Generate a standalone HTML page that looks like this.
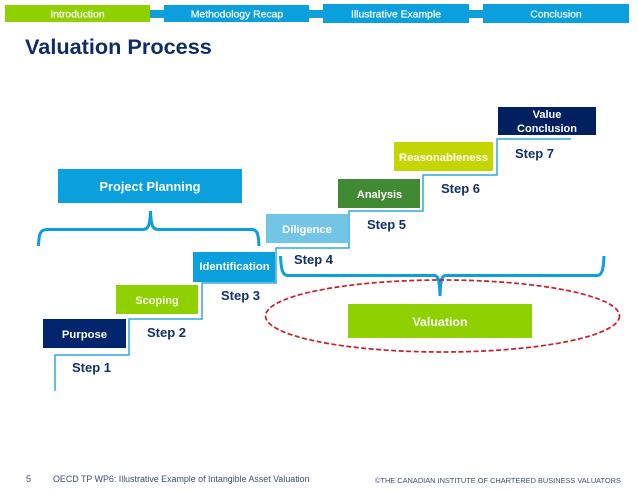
<!DOCTYPE html>
<html><head><meta charset="utf-8"><style>
html,body{margin:0;padding:0;background:#fff}
svg{display:block}
text{font-family:"Liberation Sans",sans-serif}
.w{fill:#fff;font-weight:700;text-anchor:middle}
.t{fill:#fff;font-weight:400;text-anchor:middle;font-size:10.4px;stroke:#fff;stroke-width:.25}
.s{fill:#12306b;font-weight:700;font-size:13px}
</style></head><body>
<svg width="638" height="493" viewBox="0 0 638 493" xmlns="http://www.w3.org/2000/svg">
<rect width="638" height="493" fill="#fff"/>
<!-- tabs -->
<rect x="150" y="10" width="14" height="8" fill="#0f9fdc"/>
<rect x="309" y="10" width="14" height="8" fill="#0f9fdc"/>
<rect x="469" y="10" width="14" height="8" fill="#0f9fdc"/>
<rect x="5" y="5" width="145" height="17" fill="#8fd100"/>
<rect x="164" y="5" width="145" height="17" fill="#0a9fdd"/>
<rect x="323" y="4" width="146" height="19" fill="#0a9fdd"/>
<rect x="483" y="4" width="146" height="19" fill="#0a9fdd"/>
<text class="t" x="77.5" y="17.500">Introduction</text>
<text class="t" x="237" y="17.500">Methodology Recap</text>
<text class="t" x="396" y="17.500">Illustrative Example</text>
<text class="t" x="556" y="17.500">Conclusion</text>
<text x="25" y="54" font-size="21.700" font-weight="700" fill="#0c2c6b">Valuation Process</text>
<!-- stair line -->
<path d="M55 391V355H129V319H202V283H276V248H349V211H423V175H497V139H571" fill="none" stroke="#2fa8da" stroke-width="1.500"/>
<!-- braces -->
<path d="M38.500 246C39 235 39.500 229.500 47 229.500H143C148 229.500 150 226 150.500 211C151 226 153 229.500 158 229.500H252C257.500 229.500 258.500 235 259 246" fill="none" stroke="#0a9fdd" stroke-width="3"/>
<path d="M280.500 256C281 268 282 275.500 288 275.500H434C438 275.500 439.500 279 440 296C440.500 279 442 275.500 446 275.500H597C602.500 275.500 603.500 268 604 256" fill="none" stroke="#0a9fdd" stroke-width="3"/>
<!-- ellipse -->
<ellipse cx="442.500" cy="316" rx="177" ry="36" fill="none" stroke="#c6202e" stroke-width="1.700" stroke-dasharray="5 2.500"/>
<!-- boxes -->
<rect x="58" y="169" width="184" height="34" fill="#0a9fdd"/>
<text class="w" font-size="12.800" x="150" y="191">Project Planning</text>
<rect x="43" y="319" width="83" height="29" fill="#00256c"/>
<text class="w" font-size="11.300" x="84.500" y="338">Purpose</text>
<rect x="116" y="285" width="82" height="29" fill="#8fd100"/>
<text class="w" font-size="11" x="157" y="304" fill-opacity=".9">Scoping</text>
<rect x="193" y="252" width="82" height="30" fill="#0a9fdd"/>
<text class="w" font-size="11.300" x="234.500" y="270">Identification</text>
<rect x="266" y="214" width="82" height="29" fill="#73c5e6"/>
<text class="w" font-size="11.200" x="307" y="233">Diligence</text>
<rect x="338" y="179" width="82" height="29" fill="#3f8a33"/>
<text class="w" font-size="11" x="379.500" y="198">Analysis</text>
<rect x="394" y="142" width="99" height="29" fill="#c4d600"/>
<text class="w" font-size="11.300" x="443.500" y="161">Reasonableness</text>
<rect x="498" y="107" width="98" height="28" fill="#00205f"/>
<text class="w" font-size="11" x="547" y="118">Value</text>
<text class="w" font-size="11" x="547" y="132">Conclusion</text>
<rect x="348" y="304" width="184" height="34" fill="#8fd100"/>
<text class="w" font-size="12.400" x="440" y="326">Valuation</text>
<!-- step labels -->
<text class="s" x="72" y="372">Step 1</text>
<text class="s" x="147" y="337">Step 2</text>
<text class="s" x="221" y="300">Step 3</text>
<text class="s" x="294" y="264">Step 4</text>
<text class="s" x="367" y="229">Step 5</text>
<text class="s" x="441" y="193">Step 6</text>
<text class="s" x="515" y="158">Step 7</text>
<!-- footer -->
<text x="26" y="482" font-size="9" fill="#3c4d7a">5</text>
<text x="53" y="482" font-size="8.900" fill="#3c4d7a">OECD TP WP6: Illustrative Example of Intangible Asset Valuation</text>
<text x="375" y="483" font-size="7.400" fill="#3c4d7a">©THE CANADIAN INSTITUTE OF CHARTERED BUSINESS VALUATORS</text>
</svg>
</body></html>
